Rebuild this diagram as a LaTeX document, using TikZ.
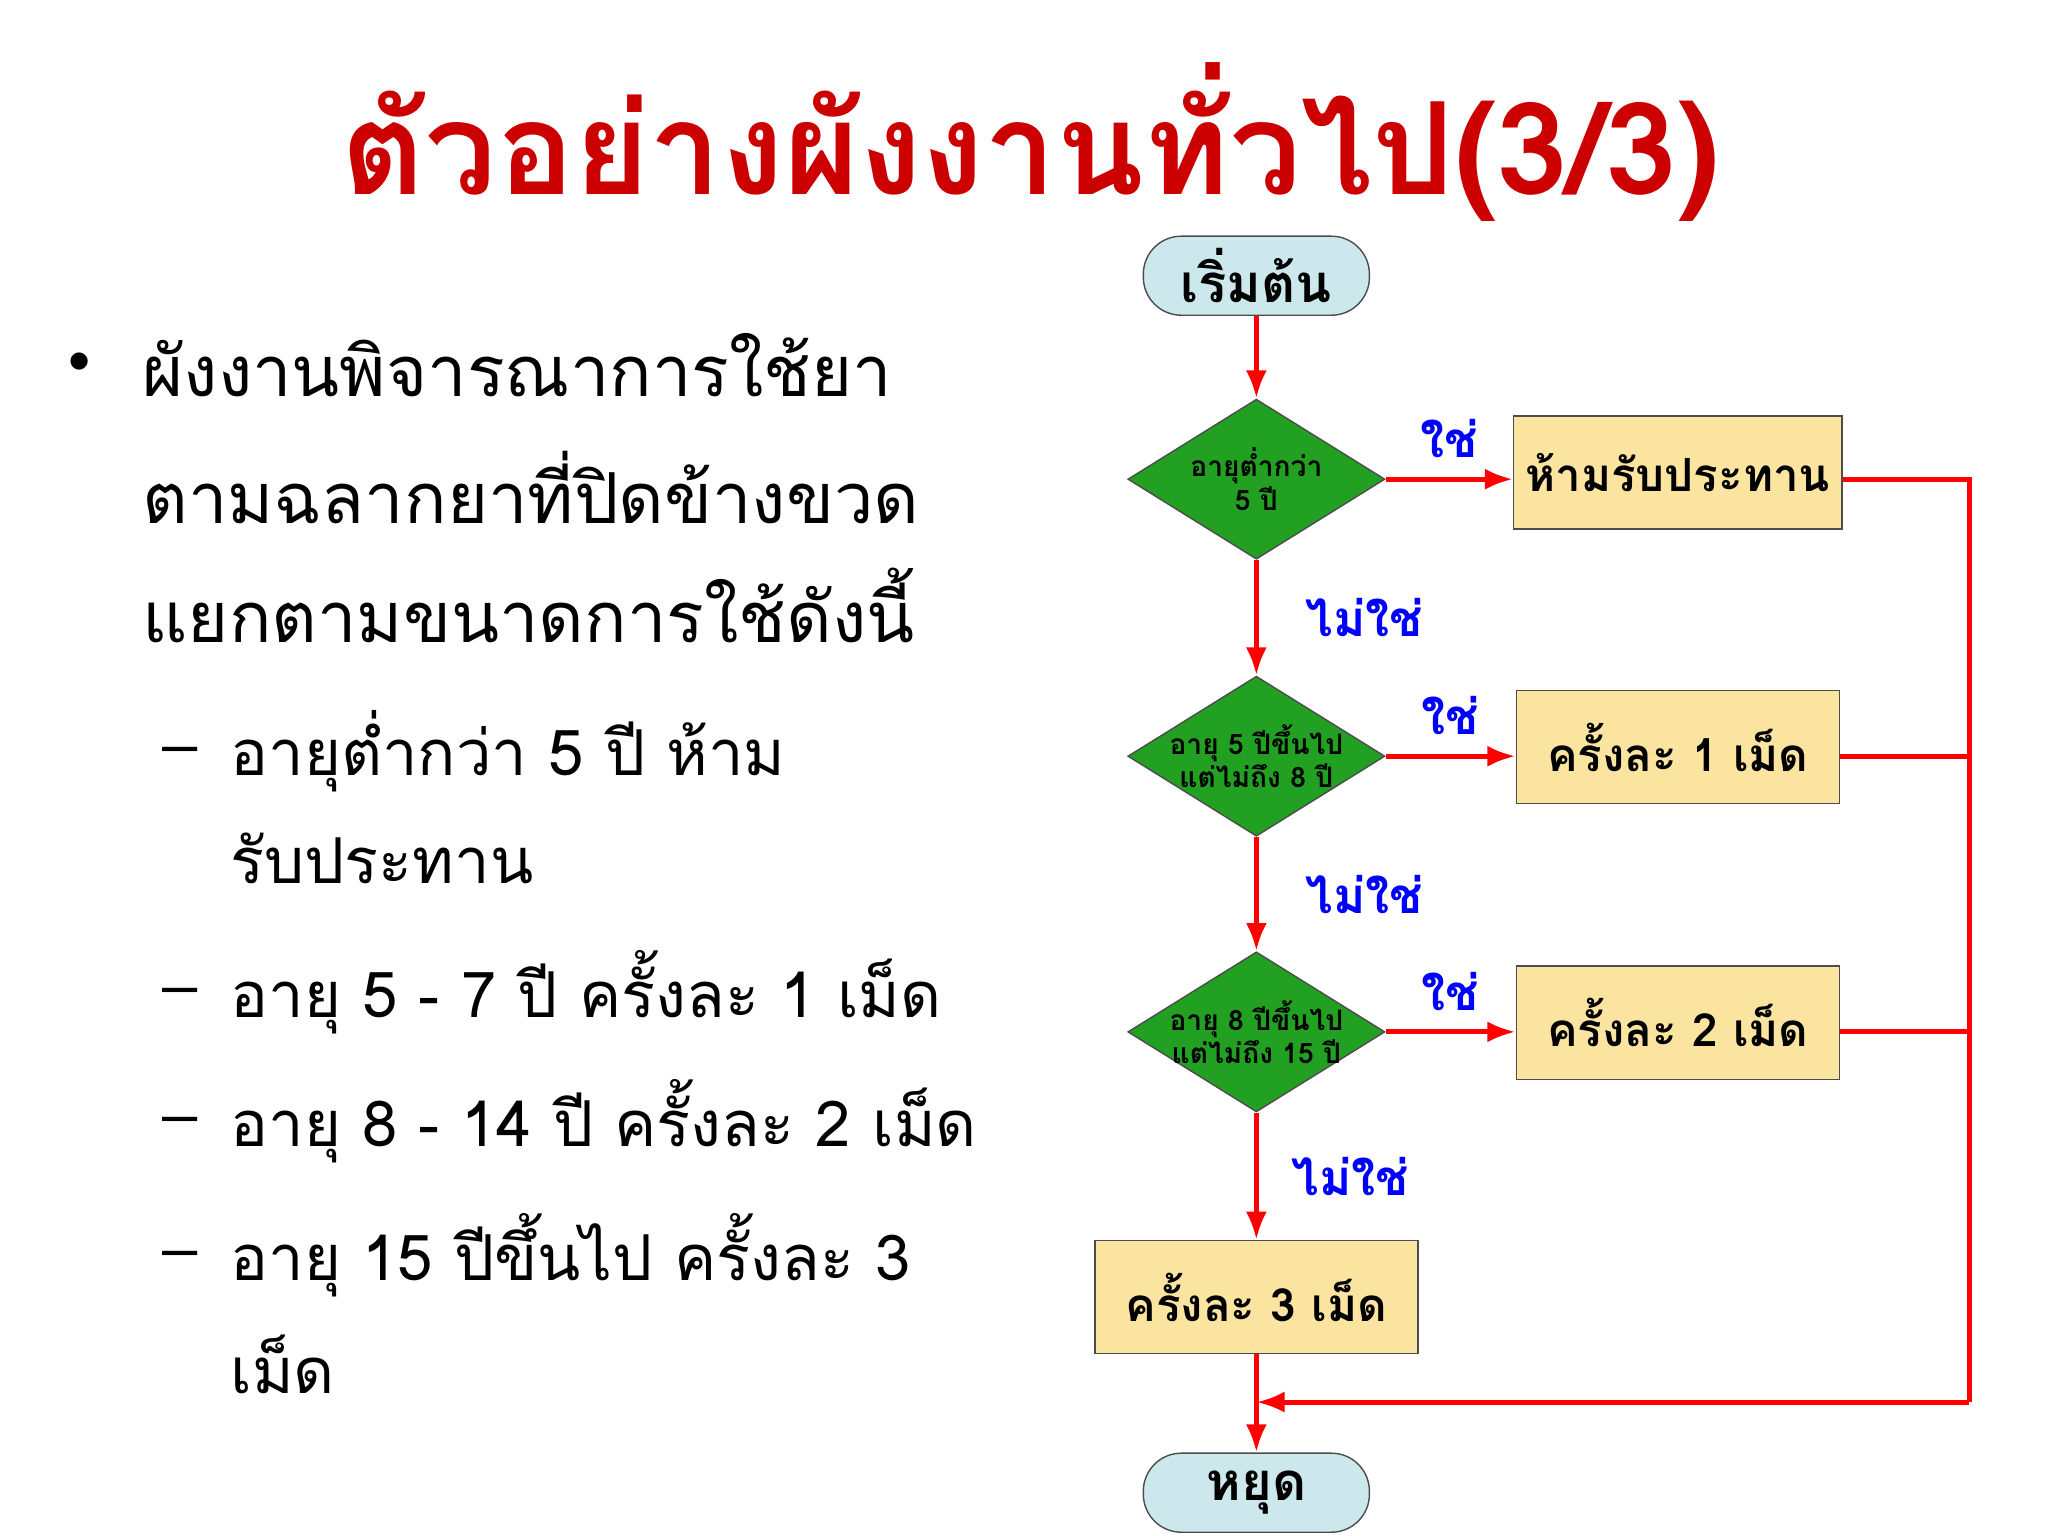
\documentclass[tikz,border=0pt]{standalone}
\usepackage{fontspec}
\newfontfamily\thaifont[Script=Thai]{Loma}
\newfontfamily\dashfont{Liberation Sans}
\usetikzlibrary{shapes.geometric, arrows.meta}
\definecolor{titlered}{RGB}{204,0,0}
\definecolor{startfill}{RGB}{204,232,236}
\definecolor{decfill}{RGB}{34,160,34}
\definecolor{boxfill}{RGB}{250,228,160}
\tikzset{
  terminal/.style={draw=black!70, fill=startfill, rounded corners=0.38cm, minimum width=2.26cm, minimum height=0.79cm, font=\thaifont\bfseries\fontsize{15}{18}\selectfont},
  decision/.style={diamond, draw=black!70, fill=decfill, inner sep=0pt, minimum width=2.57cm, minimum height=1.6cm},
  dectext/.style={align=center, inner sep=0pt, font=\thaifont\bfseries\fontsize{8}{9.5}\selectfont},
  action/.style={draw=black!70, fill=boxfill, minimum width=3.23cm, minimum height=1.13cm, font=\thaifont\bfseries\fontsize{13}{16}\selectfont},
  flow/.style={draw=red, line width=1.4pt, -{Latex[length=8pt]}},
  yes/.style={text=blue, font=\thaifont\bfseries\fontsize{14}{17}\selectfont},
  body/.style={anchor=west, inner sep=0pt, font=\thaifont\fontsize{20}{24}\selectfont},
  subbody/.style={body, font=\thaifont\fontsize{18}{22}\selectfont}
}
\begin{document}
\begin{tikzpicture}[x=0.01313cm, y=-0.01313cm]
\useasboundingbox (0,0) rectangle (1560,1170);
% title
\node[text=titlered, font=\thaifont\bfseries\fontsize{36.5}{42}\selectfont] (title) at (785,108) {ตัวอย่างผังงานทั่วไป(3/3)};
% left text
\node[body, font=\dashfont\fontsize{18}{20}\selectfont] (dot) at (52,280) {•};
\node[body] (l1) at (108,278) {ผังงานพิจารณาการใช้ยา};
\node[body] (l2) at (108,371) {ตามฉลากยาที่ปิดข้างขวด};
\node[body] (l3) at (108,461) {แยกตามขนาดการใช้ดังนี้};
\foreach \y/\t [count=\i] in {572/{อายุต่ำกว่า 5 ปี ห้าม}, 756/{อายุ 5 - 7 ปี ครั้งละ 1 เม็ด}, 854/{อายุ 8 - 14 ปี ครั้งละ 2 เม็ด}, 956/{อายุ 15 ปีขึ้นไป ครั้งละ 3}} {
  \node[body, font=\dashfont\fontsize{18}{20}\selectfont] (dash\i) at (123,\y+4) {–};
  \node[subbody] (s\i) at (175,\y) {\t};
}
\node[subbody] (s1b) at (175,654) {รับประทาน};
\node[subbody] (s4b) at (175,1039) {เม็ด};
% flowchart
\node[terminal] (start) at (957,210) {เริ่มต้น};
\node[decision] (d1) at (957,365) {};
\node[decision] (d2) at (957,576) {};
\node[decision] (d3) at (957,786) {};
\node[dectext] (t1) at (d1) {อายุต่ำกว่า\\5 ปี};
\node[dectext] (t2) at (d2) {อายุ 5 ปีขึ้นไป\\แต่ไม่ถึง 8 ปี};
\node[dectext] (t3) at (d3) {อายุ 8 ปีขึ้นไป\\แต่ไม่ถึง 15 ปี};
\node[action] (b1) at (1278,360) {ห้ามรับประทาน};
\node[action] (b2) at (1278,569) {ครั้งละ 1 เม็ด};
\node[action] (b3) at (1278,779) {ครั้งละ 2 เม็ด};
\node[action] (b4) at (957,988) {ครั้งละ 3 เม็ด};
\node[terminal] (stop) at (957,1137) {หยุด};
\coordinate (join) at (957,1068);
\coordinate (rail) at (1500,1068);
\draw[flow] (start) -- (d1);
\draw[flow] (d1) -- node[yes, right=10pt] {ไม่ใช่} (d2);
\draw[flow] (d2) -- node[yes, right=10pt] {ไม่ใช่} (d3);
\draw[flow] (d3) -- node[yes, right=6pt] {ไม่ใช่} (b4);
\foreach \d/\b in {d1/b1, d2/b2, d3/b3}
  \draw[flow] (\d.east) -- node[yes, above=2pt] {ใช่} (\d.east -| \b.west);
\draw[draw=red, line width=1.4pt] (b1.east |- d1.east) -| (rail);
\foreach \b/\d in {b2/d2, b3/d3}
  \draw[draw=red, line width=1.4pt] (\b.east |- \d.east) -- (\d.east -| rail);
\draw[flow] (rail) -- (join);
\draw[flow] (b4) -- (stop);
\end{tikzpicture}
\end{document}
